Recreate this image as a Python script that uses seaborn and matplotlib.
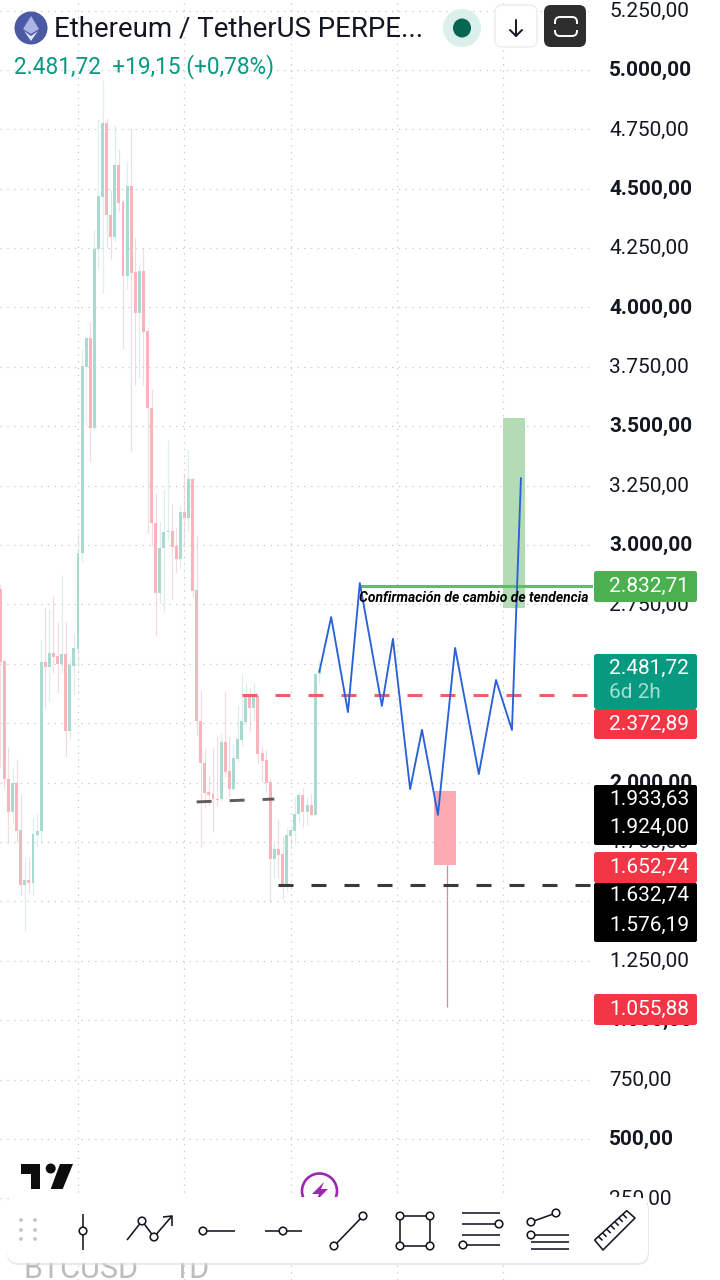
import numpy as np
import pandas as pd
import matplotlib
matplotlib.use("Agg")
import matplotlib.pyplot as plt
from matplotlib.patches import FancyBboxPatch, Circle, Ellipse, Polygon, Rectangle
from matplotlib.transforms import ScaledTranslation
import seaborn as sns

# ---------- data ----------
opens = [2815,2512,2015,1876,1998,1801,1569,1590,1578,1780,1796,2508,2487,2546,2533,2499,2541,2217,2491,
         2562,2967,3749,3871,3493,4246,4465,4776,4389,4297,4600,4444,4132,4511,4149,3977,4153,3901,3577,3093,
         2798,2987,3055,3059,2996,2941,3139,3114,3278,2811,2259,2083,1960,1952,1931,1931,2171,2049,1973,2099,
         2180,2255,2365,2314,2365,2125,2095,2003,1678,1721,1700,1561,1775,1796,1868,1948,1876,1906,1864,2457]
closes = [2508,2015,1876,1998,1796,1569,1590,1578,1784,1796,2508,2487,2546,2529,2499,2541,2217,2495,2567,
          2967,3754,3871,3493,4246,4469,4776,4389,4297,4600,4440,4132,4511,4145,3977,4153,3897,3577,3093,2798,
          2987,3055,3059,2992,2941,3139,3114,3278,2806,2259,2083,1956,1948,1931,1927,2171,2045,1973,2104,2184,
          2259,2365,2314,2365,2121,2091,1998,1678,1721,1695,1561,1780,1801,1868,1948,1876,1906,1864,2457,2474]
highs = [2836,2520,2150,2066,2099,1952,1683,1687,1851,1868,2604,2735,2731,2785,2676,2874,2676,2520,2630,
         3051,3825,3876,3939,4330,4793,4957,4797,4494,4768,4667,4452,4616,4755,4292,4179,4250,3913,3657,3219,
         3097,3236,3442,3173,3076,3164,3303,3400,3282,3042,2390,2146,2032,2146,2196,2205,2381,2196,2163,2327,
         2461,2419,2398,2419,2369,2150,2137,2015,1758,1843,1771,1809,1809,1940,1960,1977,1940,1956,2461,2516]
lows = [2066,1977,1746,1830,1750,1527,1376,1535,1527,1729,1746,2314,2344,2461,2377,2461,2108,2184,2369,
        2495,2929,3501,3349,3484,4166,4061,4254,4204,4275,4402,3825,4078,3396,3674,3703,3674,3051,2996,2617,
        2756,2718,3021,2773,2882,2903,2992,3059,2781,2196,1729,1893,1906,1792,1902,1923,2024,1939,1969,2087,
        2154,2247,2213,2259,2078,2003,1961,1497,1598,1598,1510,1544,1729,1746,1834,1813,1822,1860,1864,2419]

path_idx = [78,80.9,85,87.9,93.3,96,100.2,103.1,107,111.2,117,121.2,125.1,127.3]
path_price = [2466,2697,2297,2840,2323,2605,1973,2222,1864,2567,2036,2432,2222,3282]

tick_values = [250,500,750,1000,1250,1500,1750,2000,2250,2500,2750,3000,3250,3500,3750,4000,4250,4500,4750,5000,5250]
bold_ticks = [500,1000,2000,3000,3500,4000,4500,5000]
month_bars = [19,45,71,97,123]

confirm_level = 2832.71
red_level = 2368
black_level = 1570
grey_level = [1919,1931]
grey_span = [48.0,67.0]
confirm_start = 87.9
red_start = 59.1
black_start = 67.9

proj_x = [125.6, 108.7]
proj_top = [3535, 1965]
proj_bottom = [2735, 1652.74]
proj_low = 1055.88

price_labels = [
    ("2.832,71", 586, "#4caf50", 571, 602),
    ("2.372,89", 724, "#f23645", 709, 739),
    ("1.652,74", 867, "#f23645", 852, 883),
    ("1.055,88", 1009, "#f23645", 994, 1025),
]
black_labels = [("1.933,63", 799), ("1.924,00", 827), ("1.632,74", 895), ("1.576,19", 925)]

# ---------- theme ----------
sns.set_theme(style="white")
plt.rcParams["font.family"] = ["Roboto", "DejaVu Sans"]
plt.rcParams["patch.force_edgecolor"] = False

W, H = 720, 1280
fig = plt.figure(figsize=(7.2, 12.8), dpi=100, facecolor="white")
ax = fig.add_axes([0, 0, 593 / W, 1])

df = pd.DataFrame({"i": np.arange(len(opens)), "o": opens, "c": closes, "h": highs, "l": lows})
df["top"] = df[["o", "c"]].max(axis=1)
df["bot"] = df[["o", "c"]].min(axis=1)
df["body"] = df["top"] - df["bot"]
df["up"] = df["c"] >= df["o"]

GREEN_B, RED_B = "#a8dad0", "#fbb4bc"
GREEN_W, RED_W = "#dcefeb", "#f5dbdf"

for up, body_col, wick_col in [(True, GREEN_B, GREEN_W), (False, RED_B, RED_W)]:
    sub = df[df["up"] == up]
    ax.vlines(sub["i"], sub["l"], sub["h"], colors=wick_col, linewidth=0.85, zorder=0.9)
    sns.barplot(data=sub, x="i", y="body", bottom=sub["bot"].to_numpy(), native_scale=True,
                width=0.72, color=body_col, saturation=1, errorbar=None, linewidth=0,
                zorder=1, ax=ax)

# projection boxes
ax.bar(proj_x, np.array(proj_top) - np.array(proj_bottom), bottom=proj_bottom, width=5.4,
       color=["#b4dcb4", "#fbaab2"], linewidth=0, zorder=1.2)
ax.vlines(proj_x[1] + 0.5, proj_low, proj_bottom[1], colors="#d98a96", linewidth=0.9, zorder=1.2)

# levels
def dash(lw_pt):
    return (0, (15 * 0.72 / lw_pt, 18 * 0.72 / lw_pt))

ax.plot([grey_span[0], grey_span[1]], grey_level, color="#555555", lw=2.1, ls=dash(2.1), alpha=0.95, zorder=3)
ax.plot([red_start, 145], [red_level, red_level], color="#ee5f6e", lw=2.2, ls=dash(2.2), zorder=3)
ax.plot([black_start, 145], [black_level, black_level], color="#3a3a3a", lw=2.2, ls=dash(2.2), zorder=3)
ax.plot([confirm_start, 145], [confirm_level - 5, confirm_level - 5], color="#69b96d", lw=2.2, zorder=3)

sns.lineplot(x=path_idx, y=path_price, sort=False, estimator=None, color="#2a62d6", lw=1.35, zorder=4, ax=ax)

ax.text(87.8, 2778, "Confirmación de cambio de tendencia", fontsize=10, fontweight="bold", style="italic",
        family="Roboto", va="center", ha="left", color="black", zorder=5)

# axes
ax.set_xlim(-0.3 / 4.09, (593 - 0.3) / 4.09)
ax.set_ylim(5294.2 - 4.209 * H, 5294.2)
ax.set_xlabel("")
ax.set_ylabel("")
ax.set_xticks(month_bars)
ax.set_xticklabels([])
ax.set_yticks(tick_values)
ax.set_yticklabels([f"{v:,}".replace(",", ".") + ",00" for v in tick_values])
ax.yaxis.tick_right()
ax.tick_params(axis="y", length=0, pad=11.6, labelsize=15, labelcolor="#131722")
ax.tick_params(axis="x", length=0)
shift = ScaledTranslation(0, 1 / 72, fig.dpi_scale_trans)
for lab, v in zip(ax.get_yticklabels(), tick_values):
    lab.set_transform(lab.get_transform() + shift)
    if v in bold_ticks:
        lab.set_fontweight("bold")
ax.grid(True, color="#cfcfcf", lw=0.9, ls=(0, (1.2, 4.2)))
ax.set_axisbelow(False)
for s in ax.spines.values():
    s.set_visible(False)
ax.patch.set_alpha(0)

# ---------- overlay in pixel space (app chrome) ----------
ov = fig.add_axes([0, 0, 1, 1], zorder=10)
ov.set_xlim(0, W)
ov.set_ylim(H, 0)
ov.axis("off")
ov.patch.set_alpha(0)

def rbox(x0, y0, x1, y1, r, fc, ec="none", lw=0, z=2, **kw):
    p = FancyBboxPatch((x0 + r, y0 + r), x1 - x0 - 2 * r, y1 - y0 - 2 * r,
                       boxstyle=f"round,pad={r},rounding_size={r}", fc=fc, ec=ec, lw=lw, zorder=z, **kw)
    ov.add_patch(p)
    return p

# header
ov.add_patch(Circle((31, 28), 16.5, fc="#4a5aa3", zorder=2))
ov.add_patch(Polygon([[31, 16], [39, 29], [31, 34], [23, 29]], fc="#aab4e6", zorder=3))
ov.add_patch(Polygon([[31, 36], [38, 31], [31, 41], [24, 31]], fc="#dfe3f7", zorder=3))
ov.text(54, 28.5, "Ethereum / TetherUS PERPE...", fontsize=19.9, color="#131722", va="center", ha="left", zorder=3)
ov.text(14, 67, "2.481,72  +19,15 (+0,78%)", fontsize=16.3, color="#089981", va="center", ha="left", zorder=3)
ov.add_patch(Circle((462, 28), 19, fc="#dcf0eb", zorder=2))
ov.add_patch(Ellipse((462, 28), 18, 19, fc="#07664f", zorder=3))
rbox(495, 5, 537, 47, 7, "white", ec="#ececec", lw=1)
ov.plot([516, 516], [20, 36], color="#131722", lw=1.4, zorder=3)
ov.plot([510, 516, 522], [30, 36, 30], color="#131722", lw=1.4, zorder=3)
rbox(544, 5, 586, 47, 7, "#2e2e2e")
rbox(555, 17, 577, 36, 5, "none", ec="white", lw=1.4, z=3)
ov.add_patch(Rectangle((552, 23.5), 28, 6, fc="#2e2e2e", zorder=4))

# price labels
TXT = dict(fontsize=15, color="white", va="center", ha="left", zorder=6)
for text, yc, col, y0, y1 in price_labels:
    rbox(594, y0, 697, y1, 2.5, col, z=4)
    ov.text(609, yc, text, **TXT)
rbox(594, 654, 697, 709, 2.5, "#089981", z=3.5)
ov.text(609, 668, "2.481,72", **TXT)
ov.text(609, 692, "6d 2h", **{**TXT, "color": "#a3dfd3"})
rbox(594, 785, 697, 845, 2, "black", z=4)
rbox(594, 883, 697, 942, 2, "black", z=4)
for text, yc in black_labels:
    ov.text(609, yc, text, **TXT)

# TradingView logo
ov.add_patch(Polygon([[21, 1164], [40, 1164], [40, 1189], [31, 1189], [31, 1174], [21, 1174]], fc="#0c0c0c", zorder=2))
ov.add_patch(Circle((50.7, 1168.5), 5, fc="#0c0c0c", zorder=2))
ov.add_patch(Polygon([[60, 1164], [73, 1164], [62.7, 1189], [50.7, 1189]], fc="#0c0c0c", zorder=2))

# lightning badge
ov.add_patch(Circle((319.5, 1191), 17.5, fc="white", ec="#9c27b0", lw=1.9, zorder=2))
ov.add_patch(Polygon([[324, 1182], [312, 1194], [319, 1194], [316, 1201], [328, 1189], [321, 1189]], fc="#9c27b0", zorder=3))

# bottom ghost text + toolbar
ov.text(23, 1270, "BTCUSD", fontsize=22, color="#bcbcbc", va="center", ha="left", zorder=2)
ov.text(172, 1270, "1D", fontsize=22, color="#bcbcbc", va="center", ha="left", zorder=2)
rbox(7, 1198, 649, 1265, 12, "#dddddd", z=6.5, alpha=0.6)
rbox(7, 1197, 648, 1263, 12, "white", z=7)

for x in [21, 35]:
    for y in [1220, 1230, 1239]:
        ov.add_patch(Circle((x, y), 1.9, fc="#c4c4c4", zorder=8))

def seg(xs, ys):
    ov.plot(xs, ys, color="#131722", lw=1.15, zorder=8, solid_capstyle="butt")

def dot(x, y):
    ov.add_patch(Circle((x, y), 3.8, fc="white", ec="#131722", lw=1.15, zorder=9))

seg([83, 83], [1214, 1250]); dot(83, 1231)
seg([127, 142, 154, 172], [1240, 1221, 1237, 1216])
seg([163, 172, 172], [1217, 1216, 1226]); dot(142, 1221); dot(154, 1237)
seg([203, 235], [1231, 1231]); dot(203, 1231)
seg([265, 302], [1231, 1231]); dot(283, 1231)
seg([334, 363], [1246, 1216]); dot(334, 1246); dot(363, 1216)
seg([400, 430, 430, 400, 400], [1216, 1216, 1246, 1246, 1216])
for x, y in [(400, 1216), (430, 1216), (400, 1246), (430, 1246)]:
    dot(x, y)
for y in [1213, 1224, 1235, 1245]:
    seg([462, 500], [y, y])
dot(499, 1224); dot(463, 1245)
seg([531, 556], [1222, 1213]); dot(531, 1222); dot(556, 1213)
seg([531, 569], [1235, 1235]); dot(531, 1235)
seg([531, 569], [1242, 1242]); seg([531, 569], [1249, 1249])
ruler = np.array([[594.6, 1240], [626.7, 1210.7], [635, 1218], [603, 1250], [594.6, 1240]])
seg(ruler[:, 0], ruler[:, 1])
for t in np.linspace(0.12, 0.88, 7):
    px = 594.6 + t * (626.7 - 594.6)
    py = 1240 + t * (1210.7 - 1240)
    seg([px, px + 4], [py, py + 4])

fig.savefig("out.png", dpi=100)
